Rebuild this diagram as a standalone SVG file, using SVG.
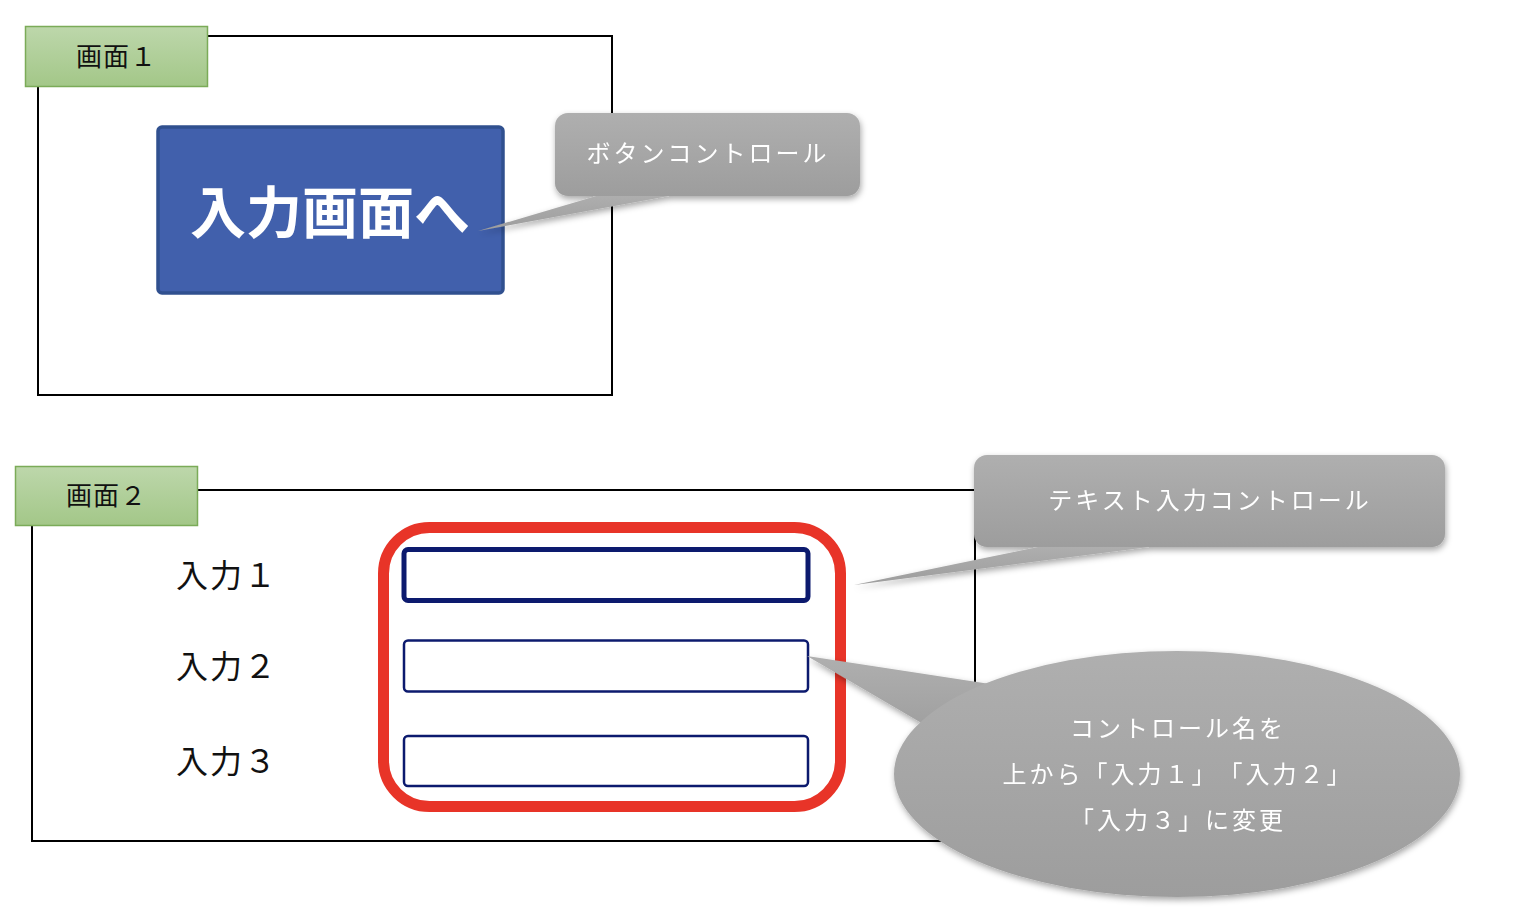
<svg xmlns="http://www.w3.org/2000/svg" width="1530" height="924" viewBox="0 0 1530 924">
<defs>
<linearGradient id="gGreen" x1="0" y1="0" x2="0" y2="1"><stop offset="0" stop-color="#bdd7ab"/><stop offset="1" stop-color="#a3c788"/></linearGradient>
<linearGradient id="gGray" x1="0" y1="0" x2="0" y2="1"><stop offset="0" stop-color="#afafaf"/><stop offset="1" stop-color="#9d9d9d"/></linearGradient>
<filter id="shadow" x="-5%" y="-5%" width="115%" height="120%"><feDropShadow dx="1" dy="3" stdDeviation="3" flood-color="#000" flood-opacity="0.35"/></filter>
<style>
text{text-spacing-trim:space-all}
.frame{fill:none;stroke:#000;stroke-width:2}
.tag{fill:url(#gGreen);stroke:#7bab58;stroke-width:1.5}
.tagtxt{font-family:"Noto Sans CJK JP","Noto Sans",sans-serif;font-size:26px;fill:#111;letter-spacing:1px}
.lbl{font-family:"Noto Sans CJK JP","Noto Sans",sans-serif;font-size:32px;fill:#111;letter-spacing:2px}
.call{fill:url(#gGray)}
.calltxt{font-family:"Noto Sans CJK JP","Noto Sans",sans-serif;font-size:24px;fill:#fff;letter-spacing:3px;text-anchor:middle}
.inp{fill:#fff;stroke:#0c1a6e}
</style>
</defs>

<g id="screen1">
<rect class="frame" x="38" y="36" width="574" height="359"/>
</g>
<g id="screen2">
<rect class="frame" x="32" y="490" width="943" height="351"/>
</g>

<g id="screen1-tag">
<rect class="tag" x="25.5" y="26.5" width="182" height="60"/>
<text class="tagtxt" x="76" y="66">画面１</text>
</g>
<g id="screen2-tag">
<rect class="tag" x="15.5" y="466.5" width="182" height="59"/>
<text class="tagtxt" x="66" y="505">画面２</text>
</g>

<g id="button">
<rect x="158" y="127" width="345" height="166" rx="4" fill="#4160ac" stroke="#30508f" stroke-width="3.5"/>
<text x="330" y="233" font-family="Noto Sans CJK JP, Noto Sans, sans-serif" font-size="56" font-weight="bold" fill="#fff" text-anchor="middle">入力画面へ</text>
</g>

<g id="labels">
<text class="lbl" x="176" y="587">入力１</text>
<text class="lbl" x="176" y="678">入力２</text>
<text class="lbl" x="176" y="773">入力３</text>
</g>

<g id="input-group">
<rect x="383.5" y="527.5" width="457" height="279" rx="46" fill="none" stroke="#e83428" stroke-width="11"/>
</g>
<g id="input1"><rect class="inp" x="404" y="549.5" width="404" height="51" rx="4" stroke-width="5"/></g>
<g id="input2"><rect class="inp" x="404" y="640.5" width="404" height="51" rx="4" stroke-width="2.5"/></g>
<g id="input3"><rect class="inp" x="404" y="736" width="404" height="50" rx="4" stroke-width="2.5"/></g>

<g filter="url(#shadow)">
<g id="connectors">
<path class="call" d="M603,194 L478,231 L680,194 Z"/>
<path class="call" d="M1048,545 L854,585 L1165,545 Z"/>
<path class="call" d="M930,728 L807,656 L990,684 L1000,740 Z"/>
</g>

<g id="callout-button">
<rect class="call" x="555" y="113" width="305" height="83" rx="13"/>
<text class="calltxt" x="708" y="162">ボタンコントロール</text>
</g>

<g id="callout-text">
<rect class="call" x="974" y="455" width="471" height="92" rx="13"/>
<text class="calltxt" x="1210" y="509">テキスト入力コントロール</text>
</g>

<g id="callout-names">
<ellipse class="call" cx="1177" cy="774" rx="283" ry="123"/>
<text class="calltxt" x="1178" y="737">コントロール名を</text>
<text class="calltxt" x="1178" y="783">上から「入力１」「入力２」</text>
<text class="calltxt" x="1178" y="829">「入力３」に変更</text>
</g>
</g>
</svg>
